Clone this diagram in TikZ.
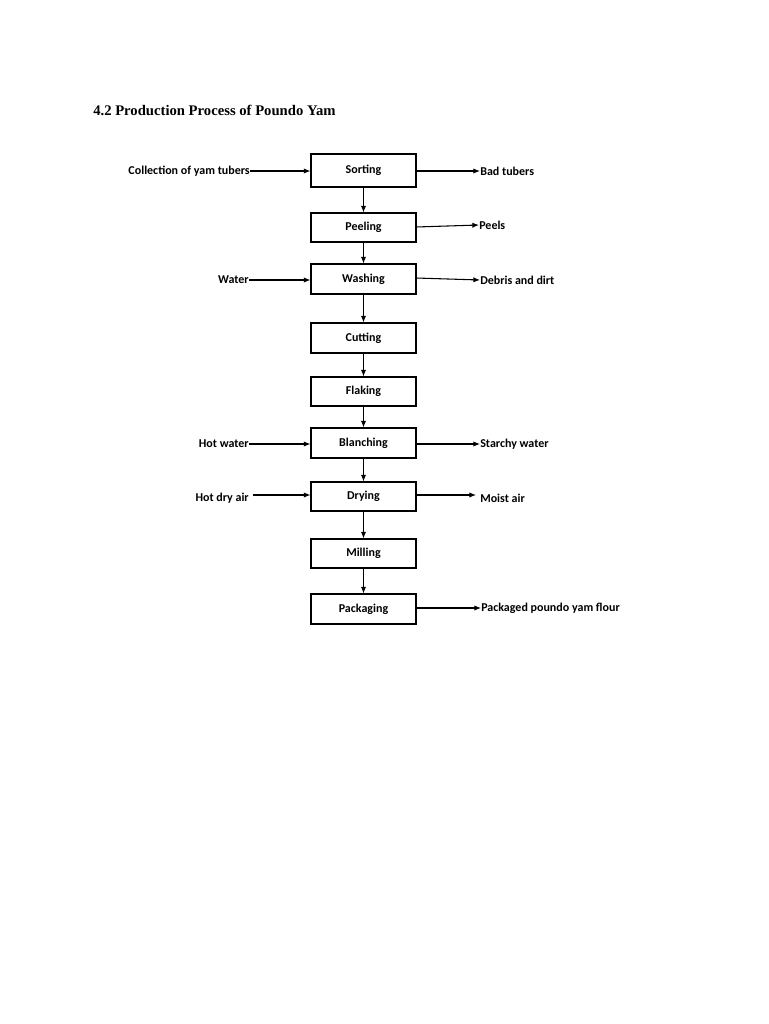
\documentclass[tikz,border=0pt]{standalone}
\usepackage{fontspec}
\setmainfont{Carlito}
\newfontfamily\titlefont{Liberation Serif}
\usetikzlibrary{arrows.meta}
\begin{document}
\begin{tikzpicture}[x=0.75pt,y=-0.75pt,
  box/.style={draw,line width=0.8pt,minimum width=105*0.75pt,inner sep=0pt,font=\bfseries\fontsize{9}{11}\selectfont},
  lab/.style={inner sep=0pt,font=\bfseries\fontsize{9}{11}\selectfont},
  arr/.style={line width=0.8pt,-{Latex[length=5pt,width=4pt]}}]
\useasboundingbox (0,0) rectangle (768,1024);
\node[anchor=west,inner sep=0pt,font=\titlefont\bfseries\fontsize{11}{13}\selectfont] (title) at (93,110) {4.2 Production Process of Poundo Yam};
\foreach \n/\t/\a/\b in {s/Sorting/154/187,p/Peeling/213/242,w/Washing/264/294,c/Cutting/323/353,f/Flaking/377/406,b/Blanching/428/458,d/Drying/482/511,m/Milling/539/568,k/Packaging/594/624}{
  \node[box,minimum height={(\b-\a)*0.75pt}] (\n) at (363.5,{(\a+\b)/2}) {\t};
}
\foreach \u/\v in {s/p,p/w,w/c,c/f,f/b,b/d,d/m,m/k}{\draw[arr] (\u) -- (\v);}
% left inputs
\node[lab,anchor=east] (i1) at (250,171) {Collection of yam tubers};
\node[lab,anchor=east] (i2) at (249,280) {Water};
\node[lab,anchor=east] (i3) at (249,444) {Hot water};
\node[lab,anchor=east] (i4) at (249,498) {Hot dry air};
\draw[arr] (i1.east) -- (i1.east -| s.west);
\draw[arr] (i2.east) -- (i2.east -| w.west);
\draw[arr] (i3.east) -- (i3.east -| b.west);
\draw[arr] (253,495) -- (253,495 -| d.west);
% right outputs
\node[lab,anchor=west] (o1) at (480,171) {Bad tubers};
\node[lab,anchor=west] (o2) at (479,225) {Peels};
\node[lab,anchor=west] (o3) at (480,280) {Debris and dirt};
\node[lab,anchor=west] (o4) at (480,444) {Starchy water};
\node[lab,anchor=west] (o5) at (480,498) {Moist air};
\node[lab,anchor=west] (o6) at (481,608) {Packaged poundo yam flour};
\draw[arr] (o1.west -| s.east) -- (o1.west);
\draw[arr] (416,227) -- (o2.west);
\draw[arr] (416,278) -- (o3.west);
\draw[arr] (o4.west -| b.east) -- (o4.west);
\draw[arr] (416,495) -- (476,495);
\draw[arr] (o6.west -| k.east) -- (o6.west);
\end{tikzpicture}
\end{document}
